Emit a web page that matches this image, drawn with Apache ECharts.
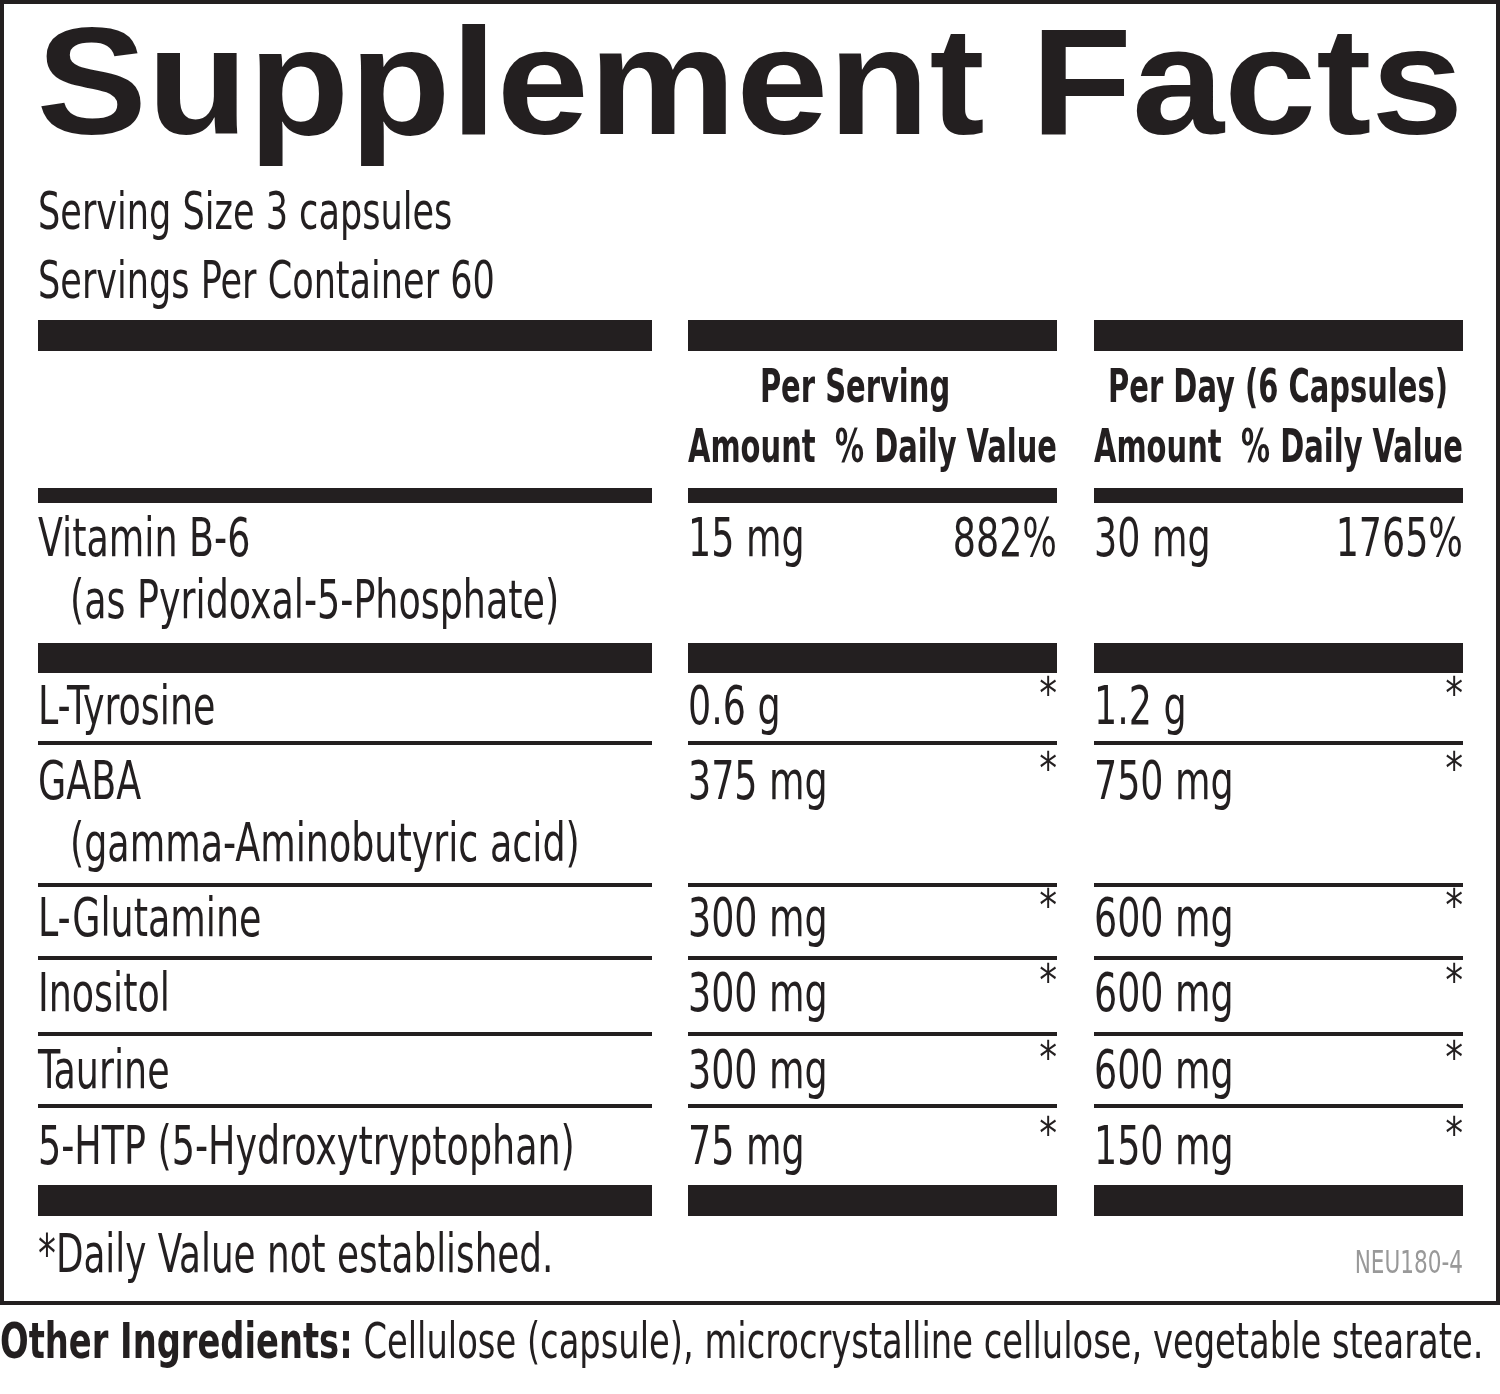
<!DOCTYPE html>
<html><head><meta charset="utf-8">
<script src="https://cdn.jsdelivr.net/npm/echarts@6/dist/echarts.min.js"></script>
<style>html,body{margin:0;padding:0;background:#fff}#c{width:1500px;height:1394px}</style>
</head><body><div id="c"></div>
<script>
var names = ['Vitamin B-6', 'L-Tyrosine', 'GABA', 'L-Glutamine', 'Inositol', 'Taurine', '5-HTP (5-Hydroxytryptophan)'];
var subNames = ['(as Pyridoxal-5-Phosphate)', '', '(gamma-Aminobutyric acid)', '', '', '', ''];
var perServing = ['15 mg', '0.6 g', '375 mg', '300 mg', '300 mg', '300 mg', '75 mg'];
var dvServing = ['882%', '*', '*', '*', '*', '*', '*'];
var perDay = ['30 mg', '1.2 g', '750 mg', '600 mg', '600 mg', '600 mg', '150 mg'];
var dvDay = ['1765%', '*', '*', '*', '*', '*', '*'];
var rowY = [542, 710, 785, 922, 997, 1074, 1150];
var lineAfter = [null, 743, 885, 958, 1034, 1106, null];

var F = '"Liberation Sans Narrow","DejaVu Sans Condensed",sans-serif';
var cols = [[38, 652], [688, 1057], [1094, 1463]];
var g = [];
function txt(x, y, s, size, opt) {
  opt = opt || {};
  g.push({type: 'text', x: x, y: y, scaleX: opt.sx || 0.75, style: {text: s, font: (opt.bold ? 'bold ' : '') + size + 'px ' + (opt.family || F),
    fill: opt.fill || '#231f20', textAlign: opt.align || 'left', textVerticalAlign: 'middle'}});
}
function bar(y, h) {
  cols.forEach(function (c) { g.push({type: 'rect', shape: {x: c[0], y: y, width: c[1] - c[0], height: h}, style: {fill: '#231f20'}}); });
}
g.push({type: 'rect', shape: {x: 2, y: 2, width: 1496, height: 1301}, style: {fill: 'none', stroke: '#231f20', lineWidth: 4}});
txt(750, 92, 'Supplement Facts', 152, {bold: true, align: 'center', sx: 1.09, family: '"Liberation Sans",Arial,sans-serif'});
txt(38, 215, 'Serving Size 3 capsules', 52);
txt(38, 284, 'Servings Per Container 60', 52);
bar(320, 31); bar(488, 15); bar(643, 30); bar(1185, 31);
txt(855, 390, 'Per Serving', 46, {bold: true, align: 'center', sx: 0.7});
txt(688, 450, 'Amount', 46, {bold: true, sx: 0.7});
txt(1057, 450, '% Daily Value', 46, {bold: true, align: 'right', sx: 0.7});
txt(1278, 390, 'Per Day (6 Capsules)', 46, {bold: true, align: 'center', sx: 0.7});
txt(1094, 450, 'Amount', 46, {bold: true, sx: 0.7});
txt(1463, 450, '% Daily Value', 46, {bold: true, align: 'right', sx: 0.7});
names.forEach(function (n, i) {
  var y = rowY[i];
  txt(38, y, n, 54);
  if (subNames[i]) txt(70, y + 62, subNames[i], 54);
  txt(688, y, perServing[i], 54);
  txt(1094, y, perDay[i], 54);
  var star = dvServing[i] === '*';
  txt(1057, star ? y - 12 : y, dvServing[i], star ? 44 : 54, {align: 'right', sx: star ? 0.9 : 0.75});
  txt(1463, star ? y - 12 : y, dvDay[i], star ? 44 : 54, {align: 'right', sx: star ? 0.9 : 0.75});
  if (lineAfter[i]) cols.forEach(function (c) {
    g.push({type: 'rect', shape: {x: c[0], y: lineAfter[i] - 2, width: c[1] - c[0], height: 4}, style: {fill: '#231f20'}});
  });
});
txt(38, 1258, '*Daily Value not established.', 53);
txt(1463, 1265, 'NEU180-4', 32, {align: 'right', fill: '#999'});
g.push({type: 'text', x: 0, y: 1345, scaleX: 0.75, style: {text: '{b|Other Ingredients:} Cellulose (capsule), microcrystalline cellulose, vegetable stearate.',
  font: '50px ' + F, fill: '#231f20', textVerticalAlign: 'middle',
  rich: {b: {font: 'bold 50px ' + F, fill: '#231f20'}}}});

var chart = echarts.init(document.getElementById('c'));
chart.setOption({backgroundColor: '#fff', graphic: g});
</script></body></html>
